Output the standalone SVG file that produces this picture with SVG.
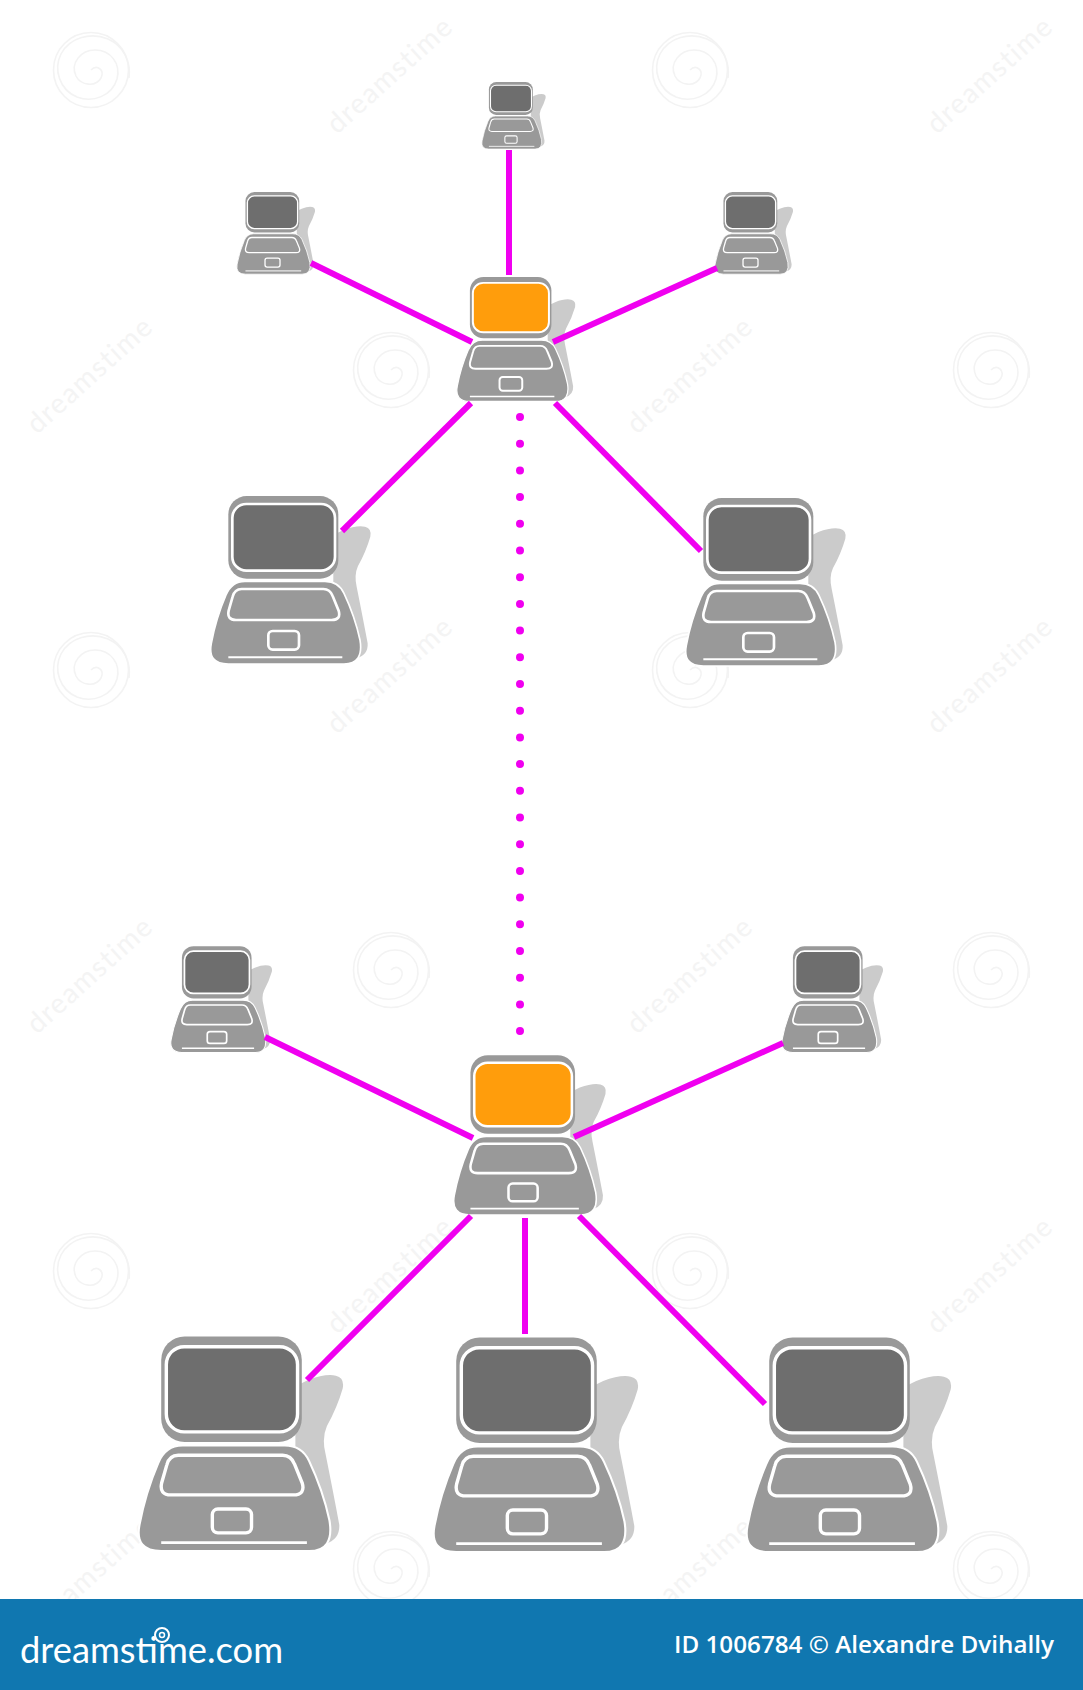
<svg xmlns="http://www.w3.org/2000/svg" width="1083" height="1690" viewBox="0 0 1083 1690">
<style>
.link{stroke:#f000f0;stroke-width:6;fill:none}
.dots{stroke:#f000f0;stroke-width:8;stroke-linecap:round;stroke-dasharray:0 26.7;fill:none}
.wm{fill:none;stroke:#f3f3f3;stroke-width:1.6}
.wmt{font-family:"Lato","Liberation Sans",sans-serif;font-size:28px;fill:#f4f4f4;letter-spacing:1.5px}
.grey{color:#6e6e6e}
.orange{color:#ff9d0c}
.sh{fill:#cbcbcb}
.bd{fill:#999}
.ln{stroke:#fff;stroke-width:8;fill:#999}
</style>
<defs>
<symbol id="laptop" overflow="visible" viewBox="0 0 600 600" width="600" height="600">
<path class="sh" d="M400,165 L430,150 Q470,135 495,140 Q516,145 511,170 Q498,215 474,258 Q462,285 470,320 Q490,420 503,490 Q505,525 470,535 L400,500 Z"/>
<rect x="85" y="48" width="330" height="248" rx="55" class="bd"/>
<rect x="97" y="72" width="308" height="200" rx="42" fill="currentColor" stroke="#fff" stroke-width="8"/>
<path class="bd" stroke="#fff" stroke-width="5" d="M135,304 H375 Q415,304 432,340 Q465,410 480,480 Q492,552 432,552 H85 Q22,552 34,490 Q48,415 78,345 Q95,304 135,304 Z"/>
<path class="ln" d="M125,327 H370 Q390,327 398,348 L416,392 Q424,420 395,420 H108 Q80,420 86,392 L98,350 Q104,327 125,327 Z"/>
<rect x="205" y="453" width="92" height="56" rx="13" class="ln"/>
<line x1="85" y1="532" x2="427" y2="532" stroke="#fff" stroke-width="6"/>
</symbol>
<g id="spiral">
<path class="wm" d="M0,0 C6,-6 14,0 10,8 C5,17 -10,16 -15,6 C-21,-7 -10,-20 4,-20 C20,-20 30,-6 26,9 C21,26 2,33 -14,27 C-31,20 -38,0 -30,-16 C-21,-33 0,-38 17,-31 C33,-24 40,-8 38,8"/>
<circle class="wm" r="37.5"/>
</g>
<g id="mark">
<text class="wmt" text-anchor="middle" transform="rotate(-42)">dreamstime</text>
</g>
</defs>
<rect width="1083" height="1690" fill="#fff"/>
<g id="watermarks">
<use href="#spiral" x="91" y="70"/><use href="#spiral" x="690" y="70"/>
<use href="#spiral" x="391" y="370"/><use href="#spiral" x="991" y="370"/>
<use href="#spiral" x="91" y="670"/><use href="#spiral" x="690" y="670"/>
<use href="#spiral" x="391" y="970"/><use href="#spiral" x="991" y="970"/>
<use href="#spiral" x="91" y="1271"/><use href="#spiral" x="690" y="1271"/>
<use href="#spiral" x="391" y="1569"/><use href="#spiral" x="991" y="1569"/>
<use href="#mark" x="396" y="82"/><use href="#mark" x="996" y="82"/>
<use href="#mark" x="96" y="382"/><use href="#mark" x="696" y="382"/>
<use href="#mark" x="396" y="682"/><use href="#mark" x="996" y="682"/>
<use href="#mark" x="96" y="982"/><use href="#mark" x="696" y="982"/>
<use href="#mark" x="396" y="1282"/><use href="#mark" x="996" y="1282"/>
<use href="#mark" x="96" y="1582"/><use href="#mark" x="696" y="1582"/>
</g>
<g id="node-top" class="grey"><use href="#laptop" transform="translate(477.6,75.6) scale(.133)"/></g>
<g id="node-top-left" class="grey"><use href="#laptop" transform="translate(231.6,184.2) scale(.163)"/></g>
<g id="node-top-right" class="grey"><use href="#laptop" transform="translate(709.6,184.2) scale(.163)"/></g>
<g id="hub-top" class="orange"><use href="#laptop" transform="translate(448.9,265.1) scale(.247)"/></g>
<g id="node-mid-left" class="grey"><use href="#laptop" transform="translate(200,480) scale(.3333)"/></g>
<g id="node-mid-right" class="grey"><use href="#laptop" transform="translate(675,482) scale(.3333)"/></g>
<g id="node-low-left" class="grey"><use href="#laptop" transform="translate(164,936) scale(.211)"/></g>
<g id="node-low-right" class="grey"><use href="#laptop" transform="translate(775,936) scale(.211)"/></g>
<g id="hub-bottom" class="orange"><use href="#laptop" transform="translate(443.5,1040) scale(.317)"/></g>
<g id="node-bottom-1" class="grey"><use href="#laptop" transform="translate(125,1316) scale(.426)"/></g>
<g id="node-bottom-2" class="grey"><use href="#laptop" transform="translate(420,1317) scale(.426)"/></g>
<g id="node-bottom-3" class="grey"><use href="#laptop" transform="translate(733,1317) scale(.426)"/></g>
<g id="connectors">
<line class="link" x1="509" y1="150" x2="509" y2="275"/>
<line class="link" x1="311" y1="263" x2="472" y2="342"/>
<line class="link" x1="717" y1="268" x2="553" y2="342"/>
<line class="link" x1="471" y1="403" x2="342" y2="531"/>
<line class="link" x1="555" y1="403" x2="701" y2="551"/>
<line class="dots" x1="520" y1="417" x2="520" y2="1032"/>
<line class="link" x1="265" y1="1037" x2="473" y2="1138"/>
<line class="link" x1="783" y1="1043" x2="574" y2="1137"/>
<line class="link" x1="471" y1="1216" x2="307" y2="1380"/>
<line class="link" x1="525" y1="1218" x2="525" y2="1334"/>
<line class="link" x1="579" y1="1216" x2="765" y2="1404"/>
</g>
<g id="footer">
<rect x="0" y="1599" width="1083" height="91" fill="#1077b0"/>
<text x="20" y="1663" font-family="Lato,'Noto Sans',sans-serif" font-size="36" fill="#fff" textLength="263" lengthAdjust="spacingAndGlyphs">dreamstime.com</text>
<circle cx="162" cy="1635" r="7" fill="none" stroke="#fff" stroke-width="2"/>
<circle cx="162" cy="1635" r="2.5" fill="none" stroke="#fff" stroke-width="1.5"/>
<text x="674" y="1653" font-family="'Open Sans','Noto Sans',sans-serif" font-size="23" font-weight="600" fill="#fff" textLength="380" lengthAdjust="spacingAndGlyphs">ID 1006784 © Alexandre Dvihally</text>
</g>
</svg>
